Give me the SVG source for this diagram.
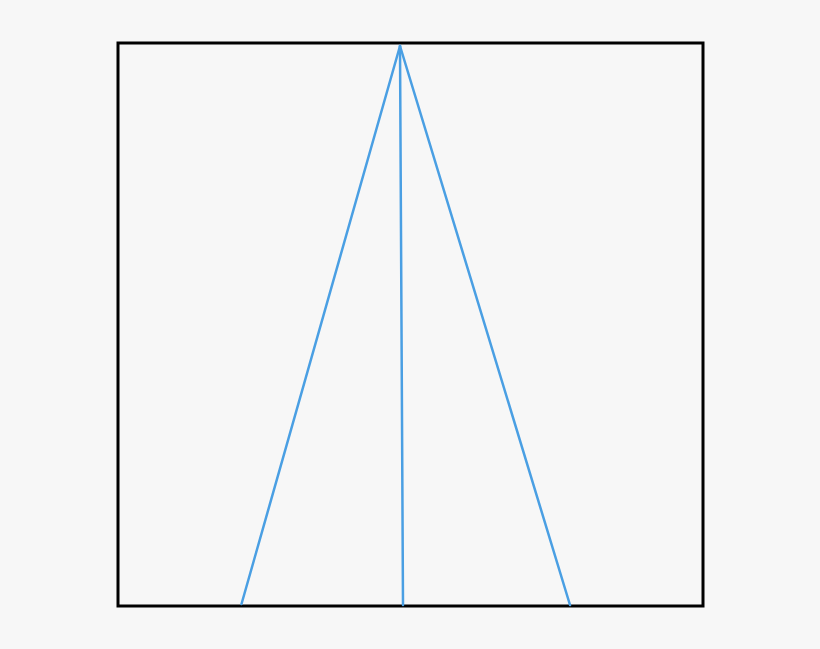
<svg xmlns="http://www.w3.org/2000/svg" width="820" height="649" viewBox="0 0 820 649">
<style>
.frame{fill:none;stroke:#000;stroke-width:3}
.ray{stroke:#4a9fe3;stroke-width:2.5;fill:none;stroke-linecap:round}
</style>
<rect width="820" height="649" fill="#f7f7f7"/>
<g id="frame"><rect class="frame" x="118" y="43" width="585" height="563"/></g>
<g id="connectors">
<line class="ray" x1="400" y1="46" x2="241.5" y2="604"/>
<line class="ray" x1="400" y1="46" x2="403" y2="605"/>
<line class="ray" x1="400" y1="46" x2="570" y2="605"/>
</g>
</svg>
